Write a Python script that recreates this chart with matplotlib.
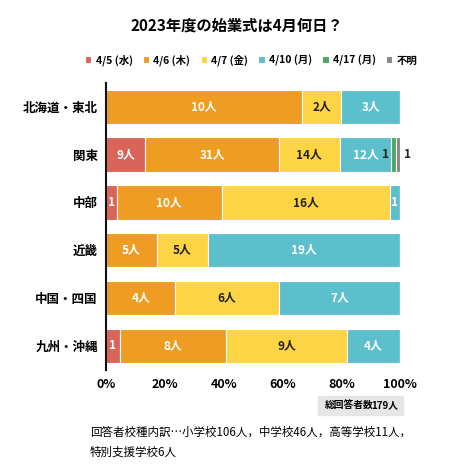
import matplotlib
matplotlib.use("Agg")
import matplotlib.pyplot as plt
from matplotlib.patches import Rectangle
import numpy as np

plt.rcParams['font.family'] = ['Noto Sans CJK JP', 'DejaVu Sans']

regions = ["北海道・東北", "関東", "中部", "近畿", "中国・四国", "九州・沖縄"]
series = ["4/5 (水)", "4/6 (木)", "4/7 (金)", "4/10 (月)", "4/17 (月)", "不明"]
d_0405 = [0, 9, 1, 0, 0, 1]
d_0406 = [10, 31, 10, 5, 4, 8]
d_0407 = [2, 14, 16, 5, 6, 9]
d_0410 = [3, 12, 1, 19, 7, 4]
d_0417 = [0, 1, 0, 0, 0, 0]
d_unk = [0, 1, 0, 0, 0, 0]
colors = ["#d9655a", "#ee9d22", "#fcd444", "#5bc0cc", "#4aa864", "#888888"]
txtcol = ["white", "white", "#222222", "white", "#222222", "#222222"]

data = np.array([d_0405, d_0406, d_0407, d_0410, d_0417, d_unk], dtype=float)
totals = data.sum(axis=0)
pct = data / totals * 100

fig = plt.figure(figsize=(4.74, 4.74), dpi=100)
ax = fig.add_axes([0.224, 0.22, 0.62, 0.605])
y = np.arange(len(regions))
left = np.zeros(len(regions))
for i, s in enumerate(series):
    ax.barh(y, pct[i], left=left, color=colors[i], height=0.72, label=s,
            edgecolor="white", linewidth=0.8)
    for j in range(len(regions)):
        v = data[i, j]
        if v <= 0:
            continue
        w = pct[i, j]
        if w < 3:
            if i == 4:
                ax.text(left[j] - 0.8, y[j], f"{int(v)}", ha="right", va="center",
                        fontsize=8.5, fontweight="bold", color="#222222")
            else:
                ax.text(left[j] + w + 1.2, y[j], f"{int(v)}", ha="left", va="center",
                        fontsize=8.5, fontweight="bold", color="#222222")
        else:
            lab = f"{int(v)}" if w < 6 else f"{int(v)}人"
            ax.text(left[j] + w / 2, y[j], lab, ha="center", va="center",
                    fontsize=8.5, fontweight="bold", color=txtcol[i])
    left += pct[i]

ax.set_xlim(0, 100)
ax.set_ylim(len(regions) - 0.5, -0.5)
ax.set_yticks(y)
ax.set_yticklabels(regions, fontsize=9, fontweight="bold")
ax.set_xticks([0, 20, 40, 60, 80, 100])
ax.set_xticklabels(["0%", "20%", "40%", "60%", "80%", "100%"], fontsize=9, fontweight="bold")
ax.tick_params(length=0, pad=6)
for sp in ["top", "right", "bottom"]:
    ax.spines[sp].set_visible(False)
ax.spines["left"].set_linewidth(1.5)
ax.spines["left"].set_color("#111111")

fig.text(0.5, 0.945, "2023年度の始業式は4月何日？", ha="center", va="center",
         fontsize=11, fontweight="bold")
fig.legend(loc="center", bbox_to_anchor=(0.53, 0.873), ncol=6, frameon=False,
           fontsize=7.5, handlelength=0.6, handleheight=0.6, columnspacing=1.0,
           handletextpad=0.4, prop={'weight': 'bold', 'size': 7.5})

fig.patches.append(Rectangle((0.67, 0.125), 0.18, 0.04, transform=fig.transFigure,
                             color="#e6e6e6", zorder=0))
fig.text(0.685, 0.145, "総回答者数", fontsize=7, fontweight="bold", va="center")
fig.text(0.84, 0.145, "179人", fontsize=7, fontweight="bold", va="center", ha="right")
fig.text(0.19, 0.088, "回答者校種内訳…小学校106人，中学校46人，高等学校11人，",
         fontsize=8.3, va="center")
fig.text(0.19, 0.046, "特別支援学校6人", fontsize=8.3, va="center")

fig.savefig("out.png", dpi=100, facecolor="white")
